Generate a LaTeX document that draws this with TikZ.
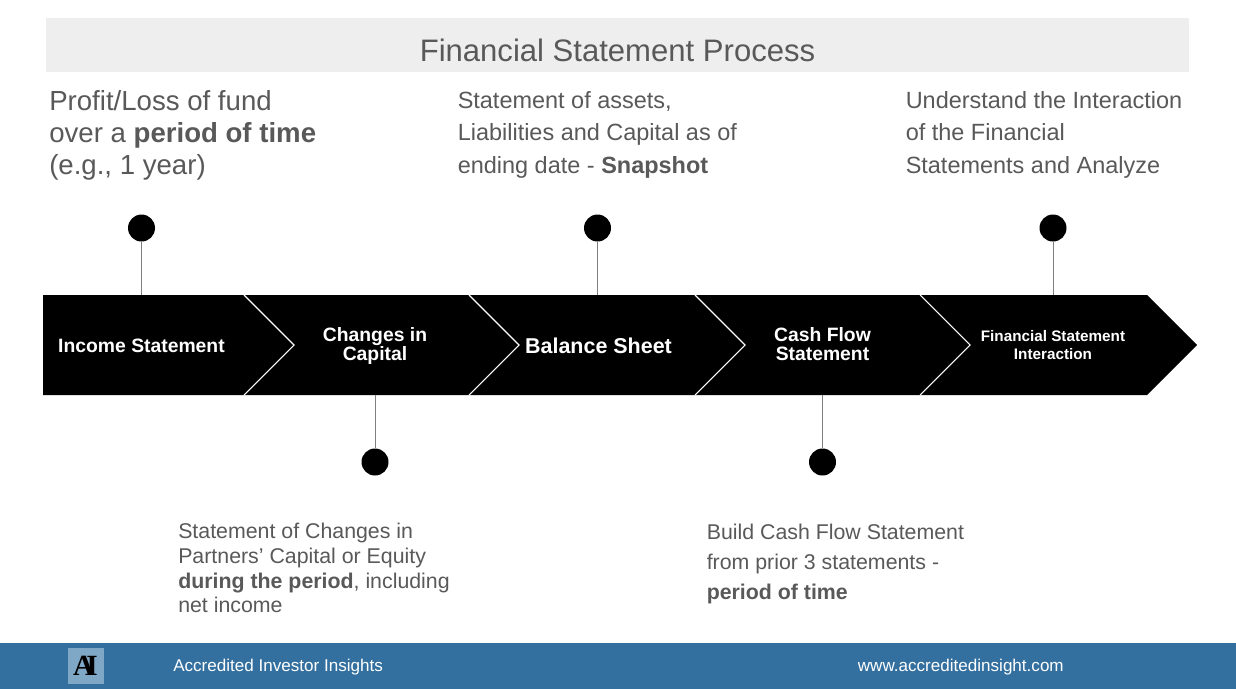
\documentclass[tikz,border=0pt]{standalone}
\usepackage{fontspec}
\setmainfont{Liberation Sans}
\newfontfamily\logofont{Liberation Serif}
\definecolor{txt}{HTML}{595959}
\definecolor{barg}{HTML}{EEEEEE}
\definecolor{foot}{HTML}{33709F}
\definecolor{logob}{HTML}{7FA8C6}
\definecolor{conn}{HTML}{7F7F7F}
\newcommand{\fs}[2]{\fontsize{#1}{#2}\selectfont}
\tikzset{
  chev/.style={fill=black,draw=none},
  notch/.style={draw=white,line width=0.8pt},
  dot/.style={circle,fill=black,draw=none,minimum size=20.25pt,inner sep=0pt},
  stem/.style={draw=conn,line width=0.75pt},
  steplabel/.style={text=white,align=center,inner sep=0pt},
  note/.style={text=txt,align=left,anchor=north west,inner sep=0pt},
}
\begin{document}
\begin{tikzpicture}[x=0.75pt,y=-0.75pt]
\useasboundingbox (0,0) rectangle (1236,689);
\fill[white] (0,0) rectangle (1236,689);
\fill[barg] (46,18) rectangle (1189,72);
\node[text=txt,inner sep=0pt,font=\fs{23.3}{27}] (title) at (617.5,50.5) {Financial Statement Process};
% notes
\node[note,font=\fs{20.7}{24}] (n1) at (49,90) {Profit/Loss of fund\\over a \textbf{period of time}\\(e.g., 1 year)};
\node[note,font=\fs{17.6}{24.4}] (n2) at (457.5,91) {Statement of assets,\\Liabilities and Capital as of\\ending date - \textbf{Snapshot}};
\node[note,font=\fs{17.6}{24.4}] (n3) at (905.5,91) {Understand the Interaction\\of the Financial\\Statements and Analyze};
\node[note,font=\fs{16}{18.5}] (n4) at (178,523) {Statement of Changes in\\Partners’ Capital or Equity\\\textbf{during the period}, including\\net income};
\node[note,font=\fs{16}{22.5}] (n5) at (706.5,524) {Build Cash Flow Statement\\from prior 3 statements -\\\textbf{period of time}};
% chevron band
\fill[chev] (43,295) -- (1147,295) -- (1197,345) -- (1147,395) -- (43,395) -- cycle;
\draw[notch] (244,295) -- (294,345) -- (244,395);
\draw[notch] (469,295) -- (519,345) -- (469,395);
\draw[notch] (695,295) -- (745,345) -- (695,395);
\draw[notch] (920,295) -- (970,345) -- (920,395);
% band anchors
\coordinate (a1) at (141.5,295);
\coordinate (a2) at (375,395);
\coordinate (a3) at (597.5,295);
\coordinate (a4) at (822.5,395);
\coordinate (a5) at (1053,295);
% dots
\node[dot] (d1) at (141.5,228) {};
\node[dot] (d2) at (375,462) {};
\node[dot] (d3) at (597.5,228) {};
\node[dot] (d4) at (822.5,462) {};
\node[dot] (d5) at (1053,228) {};
\draw[stem] (d1) -- (a1);
\draw[stem] (d2) -- (a2);
\draw[stem] (d3) -- (a3);
\draw[stem] (d4) -- (a4);
\draw[stem] (d5) -- (a5);
% labels
\node[steplabel,font=\bfseries\fs{14.5}{14}] (s1) at (141.5,346) {Income Statement};
\node[steplabel,font=\bfseries\fs{14.5}{14}] (s2) at (375,346) {Changes in\\Capital};
\node[steplabel,font=\bfseries\fs{16.1}{16}] (s3) at (598.5,346) {Balance Sheet};
\node[steplabel,font=\bfseries\fs{14.5}{14}] (s4) at (822.5,344) {Cash Flow\\Statement};
\node[steplabel,font=\bfseries\fs{11.45}{13.5}] (s5) at (1053,345.5) {Financial Statement\\Interaction};
% footer
\fill[foot] (0,643) rectangle (1236,689);
\fill[logob] (68,648) rectangle (104,684);
\node[inner sep=0pt,text=black,font=\logofont\bfseries\fs{22}{22}] (logo) at (85.5,665.5) {A\kern-6ptI};
\node[text=white,anchor=west,inner sep=0pt,font=\fs{12.8}{15}] (f1) at (173,667.5) {Accredited Investor Insights};
\node[text=white,anchor=east,inner sep=0pt,font=\fs{12.8}{15}] (f2) at (1064,667.5) {www.accreditedinsight.com};
\end{tikzpicture}
\end{document}
